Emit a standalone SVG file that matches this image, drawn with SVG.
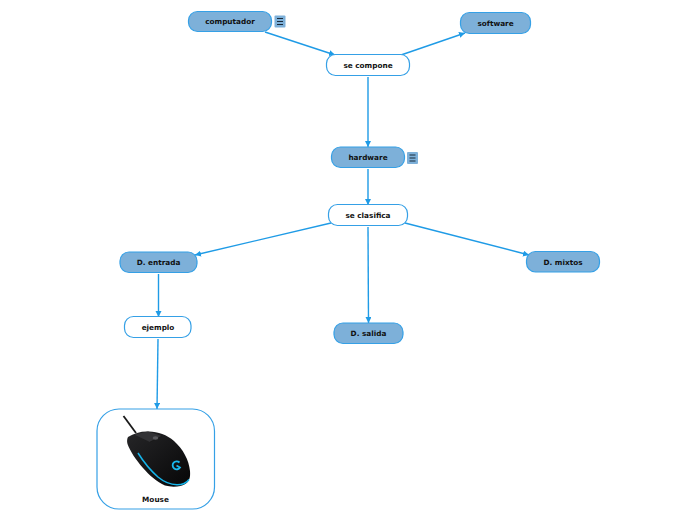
<svg xmlns="http://www.w3.org/2000/svg" width="696" height="520" viewBox="0 0 696 520">
<style>
.t{font-family:"DejaVu Sans",sans-serif;font-weight:700;font-size:7.3px;fill:#111;text-anchor:middle}
.f{fill:#7db0d9;stroke:#35a0e6;stroke-width:1.200}
.w{fill:#fff;stroke:#35a0e6;stroke-width:1.200}
.c{fill:none;stroke:#1f9be6;stroke-width:1.400}
.b{fill:#7db0d9}
.l{stroke:#1a2a3a;stroke-width:1}
</style>
<defs><marker id="a" markerUnits="userSpaceOnUse" markerWidth="7" markerHeight="7" refX="6" refY="3" orient="auto"><path d="M0 0L6 3L0 6Z" fill="#1f9be6"/></marker>
<linearGradient id="m" x1="0" y1="0" x2="1" y2="1"><stop offset="0" stop-color="#262628"/><stop offset="1" stop-color="#060607"/></linearGradient></defs>
<g id="connectors">
<path class="c" marker-end="url(#a)" d="M265 32L335 55"/>
<path class="c" marker-end="url(#a)" d="M401 55L465 33"/>
<path class="c" marker-end="url(#a)" d="M368 77V147"/>
<path class="c" marker-end="url(#a)" d="M368 169V205"/>
<path class="c" marker-end="url(#a)" d="M331 223L195 255"/>
<path class="c" marker-end="url(#a)" d="M405 223L529 255"/>
<path class="c" marker-end="url(#a)" d="M368 227L368.500 323"/>
<path class="c" marker-end="url(#a)" d="M158.500 274V317"/>
<path class="c" marker-end="url(#a)" d="M158 339L157 409"/>
</g>
<g id="computador"><rect class="f" x="188.500" y="11.500" width="83" height="20" rx="9"/><text class="t" x="230" y="24">computador</text>
<rect class="b" x="274.500" y="15.500" width="11" height="12" rx="1"/><path class="l" d="M277 18.500h6M277 21.500h6M277 24.500h6"/></g>
<g id="software"><rect class="f" x="460.500" y="12.500" width="70" height="21" rx="9"/><text class="t" x="495.500" y="26">software</text></g>
<g id="se-compone"><rect class="w" x="326.500" y="54.500" width="83" height="21" rx="9"/><text class="t" x="368" y="68">se compone</text></g>
<g id="hardware"><rect class="f" x="331.500" y="147" width="73" height="20.500" rx="9"/><text class="t" x="368" y="160">hardware</text>
<rect class="b" x="407" y="152" width="11" height="12" rx="1"/><path class="l" d="M409.500 155h6M409.500 158h6M409.500 161h6"/></g>
<g id="se-clasifica"><rect class="w" x="328.500" y="204.500" width="79" height="21" rx="9"/><text class="t" x="368" y="218">se clasifica</text></g>
<g id="d-entrada"><rect class="f" x="120" y="252" width="77" height="20.500" rx="9"/><text class="t" x="158.500" y="265">D. entrada</text></g>
<g id="d-mixtos"><rect class="f" x="526.500" y="251.500" width="73" height="20.500" rx="9"/><text class="t" x="563" y="264.500">D. mixtos</text></g>
<g id="ejemplo"><rect class="w" x="124.500" y="316.500" width="66.500" height="21" rx="9"/><text class="t" x="158" y="330">ejemplo</text></g>
<g id="d-salida"><rect class="f" x="334" y="323" width="69" height="20.500" rx="9"/><text class="t" x="368.500" y="336">D. salida</text></g>
<g id="mouse"><rect class="w" x="97" y="409" width="117.500" height="100" rx="22"/>
<path d="M123.500 416L136 433" fill="none" stroke="#1a1a1a" stroke-width="1.800"/>
<path d="M128 437C134 433 142 431 149 431.500C158 431.500 167 435 174 441C183 449 189 460 190 471C190.500 477 189.500 481 186 483.500C181 487 172 487.500 165 485.500C157 482 149 475 143 468C136 460 130 451 127.500 444C126.800 441 127 439 128 437Z" fill="url(#m)"/>
<path d="M138 453C143 461 150 470 158 477C164 482 170 484.500 177 484.800C182 484.800 186.500 483 189 479.500" fill="none" stroke="#14b4ea" stroke-width="1.500"/>
<path d="M134 434.500L148 431.500L162 436L150 442Z" fill="#333336"/>
<path d="M150 442L162 436" stroke="#111" stroke-width=".6"/>
<ellipse cx="155.500" cy="438" rx="2.800" ry="1.700" fill="#5a5a5e"/>
<path d="M179.500 462.500A4 4 0 1 0 180 467.500L176.500 465.500" fill="none" stroke="#19b8ee" stroke-width="1.800"/>
<text class="t" x="155.500" y="502">Mouse</text></g>
</svg>
